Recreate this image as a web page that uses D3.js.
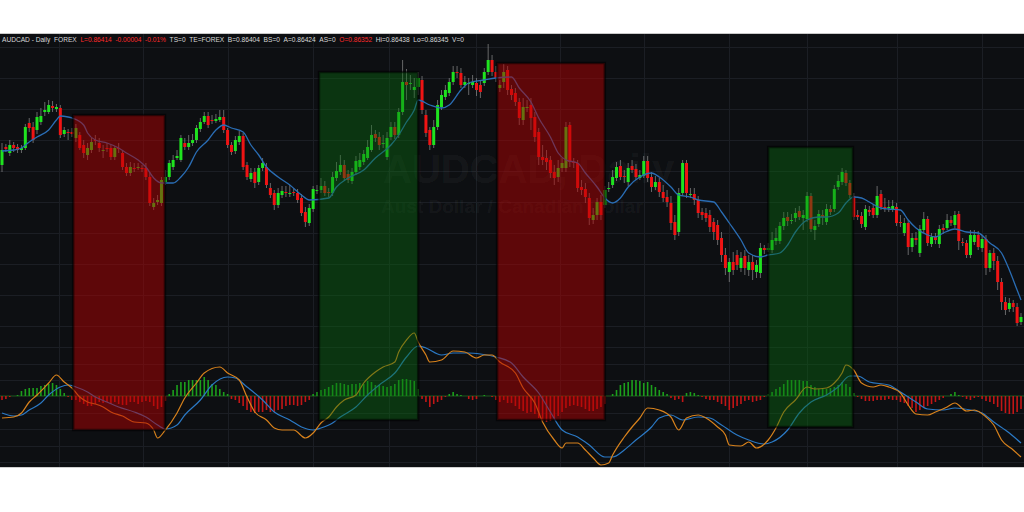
<!DOCTYPE html>
<html><head><meta charset="utf-8">
<script src="https://cdn.jsdelivr.net/npm/d3@7"></script>
<style>html,body{margin:0;padding:0;background:#fff;}svg{display:block}</style>
</head><body><svg id="c" width="1024" height="512"></svg>
<script>
// Prices are stored as price x 10 000 (AUDCAD daily candles)
const openP = [8738,8774,8762,8778,8774,8768,8772,8822,8814,8808,
8824,8844,8844,8856,8850,8852,8800,8804,8804,8792,
8798,8778,8758,8768,8788,8782,8766,8772,8772,8754,
8772,8762,8734,8722,8732,8732,8732,8732,8714,8654,
8664,8662,8704,8714,8734,8752,8748,8782,8774,8782,
8788,8810,8824,8836,8828,8826,8828,8834,8808,8778,
8766,8784,8796,8738,8710,8724,8704,8732,8734,8692,
8682,8658,8678,8684,8680,8684,8682,8672,8644,8622,
8650,8686,8688,8696,8684,8682,8712,8724,8738,8720,
8706,8724,8734,8744,8752,8768,8800,8794,8780,8754,
8794,8814,8798,8844,8904,8900,8888,8894,8908,8838,
8808,8778,8814,8854,8874,8882,8904,8924,8922,8898,
8900,8898,8902,8898,8902,8924,8948,8924,8892,8904,
8928,8890,8882,8864,8828,8852,8858,8834,8804,8754,
8752,8748,8724,8714,8732,8732,8818,8744,8742,8694,
8690,8672,8628,8638,8664,8658,8690,8698,8712,8736,
8716,8704,8736,8730,8712,8716,8746,8714,8694,8704,
8684,8674,8662,8624,8604,8682,8742,8678,8680,8668,
8644,8642,8638,8624,8618,8592,8558,8524,8544,8558,
8532,8556,8528,8544,8524,8522,8572,8568,8568,8586,
8586,8616,8634,8626,8632,8646,8632,8630,8676,8608,
8620,8638,8624,8650,8650,8694,8704,8722,8702,8676,
8638,8636,8614,8648,8652,8638,8680,8654,8652,8648,
8654,8624,8602,8622,8574,8592,8562,8608,8630,8580,
8594,8580,8612,8612,8628,8618,8640,8584,8582,8558,
8584,8598,8572,8590,8532,8562,8546,8504,8464,8450,
8462,8454,8424];
const highP = [8782,8780,8788,8784,8780,8778,8820,8832,8824,8844,
8852,8864,8868,8866,8860,8858,8814,8810,8812,8820,
8804,8788,8782,8792,8798,8792,8778,8782,8778,8776,
8782,8768,8742,8744,8742,8742,8738,8742,8724,8672,
8678,8714,8728,8748,8758,8768,8798,8792,8798,8800,
8818,8832,8844,8844,8838,8840,8848,8848,8812,8784,
8796,8806,8802,8744,8732,8732,8738,8752,8742,8702,
8688,8692,8696,8696,8698,8692,8690,8680,8654,8660,
8696,8698,8712,8706,8692,8724,8744,8758,8748,8728,
8732,8756,8762,8768,8788,8818,8808,8804,8798,8804,
8824,8824,8852,8948,8930,8918,8912,8924,8916,8848,
8814,8828,8868,8888,8898,8912,8936,8936,8932,8916,
8912,8918,8912,8908,8932,8980,8958,8936,8908,8940,
8936,8898,8892,8872,8872,8868,8872,8844,8812,8778,
8768,8756,8738,8748,8752,8824,8824,8752,8748,8708,
8702,8682,8652,8672,8678,8696,8704,8728,8744,8748,
8728,8742,8748,8740,8728,8756,8756,8724,8716,8712,
8698,8688,8676,8638,8692,8748,8748,8692,8692,8676,
8652,8652,8648,8632,8628,8604,8572,8552,8564,8568,
8564,8568,8558,8558,8548,8582,8578,8582,8604,8612,
8624,8644,8644,8640,8652,8656,8648,8684,8682,8628,
8648,8648,8660,8658,8698,8718,8732,8728,8708,8682,
8648,8644,8658,8656,8660,8696,8688,8672,8668,8668,
8662,8638,8632,8628,8602,8604,8618,8644,8636,8602,
8602,8618,8620,8640,8636,8646,8646,8592,8588,8608,
8608,8606,8598,8598,8568,8572,8556,8512,8474,8472,
8468,8462,8442];
const lowP = [8724,8764,8756,8764,8762,8762,8768,8804,8782,8800,
8818,8836,8840,8844,8844,8792,8794,8788,8794,8784,
8768,8752,8748,8762,8778,8764,8752,8764,8748,8748,
8762,8728,8716,8716,8724,8728,8724,8708,8656,8648,
8658,8656,8698,8708,8728,8748,8744,8768,8768,8776,
8782,8804,8820,8812,8820,8822,8824,8802,8772,8758,
8760,8778,8728,8708,8704,8692,8698,8726,8692,8672,
8648,8652,8672,8674,8674,8676,8662,8636,8614,8616,
8644,8680,8682,8676,8674,8676,8706,8718,8706,8702,
8700,8718,8728,8738,8748,8764,8784,8768,8772,8748,
8788,8790,8792,8838,8868,8888,8872,8878,8840,8794,
8768,8772,8808,8848,8868,8876,8898,8912,8892,8892,
8878,8892,8876,8872,8896,8918,8916,8904,8884,8892,
8878,8868,8856,8818,8818,8844,8808,8784,8738,8738,
8728,8712,8698,8704,8724,8724,8734,8732,8684,8678,
8662,8618,8620,8628,8628,8652,8684,8692,8706,8708,
8702,8696,8722,8708,8708,8712,8704,8684,8688,8674,
8664,8654,8608,8588,8596,8676,8672,8672,8658,8632,
8628,8624,8604,8588,8578,8544,8518,8504,8518,8528,
8524,8518,8516,8508,8512,8512,8560,8564,8562,8578,
8580,8608,8616,8620,8624,8628,8608,8624,8604,8588,
8614,8618,8618,8638,8644,8688,8698,8696,8672,8628,
8628,8612,8608,8636,8632,8632,8648,8644,8644,8644,
8616,8614,8596,8558,8564,8578,8554,8602,8576,8574,
8580,8572,8600,8608,8616,8612,8568,8576,8552,8552,
8578,8568,8564,8518,8524,8528,8488,8448,8438,8444,
8444,8416,8418];
const closeP = [8768,8770,8778,8772,8768,8772,8814,8812,8788,8834,
8836,8848,8858,8852,8854,8798,8808,8802,8800,8812,
8772,8762,8772,8784,8786,8772,8768,8770,8754,8772,
8770,8734,8722,8734,8730,8734,8730,8714,8662,8662,
8668,8708,8714,8742,8748,8756,8792,8774,8782,8788,
8812,8824,8836,8818,8826,8830,8834,8808,8778,8764,
8788,8796,8734,8714,8722,8702,8732,8742,8698,8678,
8658,8682,8686,8682,8682,8682,8668,8642,8624,8652,
8690,8688,8696,8682,8682,8714,8726,8738,8712,8708,
8724,8746,8748,8760,8774,8798,8792,8778,8782,8792,
8814,8798,8844,8904,8898,8902,8894,8912,8848,8802,
8778,8814,8858,8878,8888,8904,8924,8922,8898,8904,
8902,8904,8888,8884,8924,8948,8924,8912,8898,8924,
8888,8878,8864,8832,8854,8854,8832,8794,8754,8748,
8744,8722,8712,8732,8742,8814,8744,8742,8692,8688,
8674,8632,8638,8664,8638,8688,8692,8714,8734,8714,
8714,8732,8728,8714,8718,8746,8712,8694,8704,8684,
8672,8664,8622,8598,8682,8742,8682,8680,8668,8642,
8638,8632,8614,8604,8588,8558,8532,8544,8528,8538,
8552,8532,8544,8528,8538,8572,8568,8572,8588,8592,
8616,8632,8626,8628,8642,8634,8638,8676,8610,8616,
8640,8634,8650,8644,8690,8706,8724,8702,8678,8634,
8634,8620,8650,8644,8638,8676,8654,8652,8654,8656,
8622,8622,8622,8574,8592,8588,8610,8630,8582,8594,
8588,8610,8608,8628,8622,8638,8586,8582,8558,8598,
8598,8574,8590,8532,8562,8546,8504,8464,8448,8462,
8454,8422,8434];

// moving average: [candle index, price x 10 000]
const maPoints = [[0,8766],[3,8768],[5,8772],[7,8784],[9,8794],[12,8808],[14,8828],[15,8836],[17,8834],[18,8832],
[21,8818],[22,8802],[24,8788],[27,8782],[30,8772],[32,8762],[35,8748],[37,8734],[39,8712],[41,8702],
[44,8702],[46,8714],[48,8734],[50,8764],[53,8788],[55,8808],[57,8818],[59,8812],[62,8804],[64,8778],
[66,8758],[68,8734],[71,8714],[74,8698],[77,8678],[79,8668],[84,8672],[86,8694],[89,8712],[93,8728],
[96,8752],[100,8778],[102,8798],[104,8824],[106,8848],[107,8868],[110,8858],[113,8852],[115,8858],[118,8888],
[120,8902],[124,8908],[127,8912],[131,8914],[133,8892],[136,8864],[138,8832],[141,8794],[143,8762],[145,8748],
[148,8742],[150,8722],[153,8694],[155,8672],[157,8662],[159,8672],[161,8694],[164,8714],[167,8722],[169,8714],
[172,8694],[174,8678],[177,8674],[179,8668],[183,8664],[185,8644],[187,8622],[190,8588],[192,8562],[195,8554],
[197,8558],[200,8562],[202,8578],[204,8604],[207,8628],[210,8634],[212,8634],[215,8642],[217,8662],[219,8674],
[221,8672],[223,8664],[226,8652],[228,8650],[231,8648],[233,8628],[235,8612],[238,8598],[240,8594],[242,8602],
[245,8610],[248,8604],[251,8602],[254,8582],[257,8562],[259,8528],[261,8488],[262,8468]];

// MACD panel (values x 10 000): [candle index, value]
const macdPoints = [[0,-11],[3,-10.5],[5,-8.5],[7,-3],[9,0.5],[12,6.5],[14,10.5],[16,7],[18,4],[20,-0.5],
[22,-3],[24,-4],[26,-5.5],[28,-8],[31,-10],[34,-13],[37,-13.5],[39,-17],[40,-21],[42,-17],
[45,-8.5],[47,-1],[50,6.5],[52,11.5],[56,14.5],[58,11.5],[61,8],[63,-0.5],[65,-8],[68,-12],
[70,-16],[72,-17],[75,-17],[78,-21],[80,-18.5],[82,-13.5],[84,-10.5],[86,-5.5],[88,-2],[91,0.5],
[93,6.5],[96,12],[98,14.5],[101,17],[102,22],[104,28],[106,31.5],[107,27],[109,20.5],[110,17],
[113,18],[116,22.5],[119,22],[122,19],[124,20.5],[126,20.5],[128,17],[132,11.5],[134,4],[137,-3.5],
[139,-13],[142,-22],[144,-26],[145,-23.5],[148,-23.5],[150,-27],[152,-31],[154,-34.5],[156,-33.5],[157,-29.5],
[160,-20.5],[162,-15.5],[164,-11],[166,-6],[169,-7],[172,-10.5],[174,-17],[176,-11],[179,-9.5],[181,-11],
[184,-15.5],[186,-19.5],[187,-24.5],[190,-25],[192,-23],[194,-26],[197,-22],[199,-16],[201,-8],[204,-2],
[207,4.5],[209,3.5],[212,4],[214,6.5],[216,11.5],[217,15.5],[219,13],[221,6.5],[224,4.5],[226,5.5],
[228,4.5],[231,1.5],[233,-4.5],[235,-9],[238,-9.5],[240,-8],[243,-5.5],[245,-3.5],[248,-7.5],[250,-7],
[253,-10.5],[255,-14.5],[257,-22],[260,-27],[262,-30.5]];
const signalPoints = [[0,-8.5],[3,-10],[5,-9.5],[7,-7],[10,-3.5],[12,0.5],[15,4.5],[17,5.5],[19,4.5],[22,2],
[24,-0.5],[27,-3],[30,-5.5],[34,-8],[37,-10.5],[40,-14.5],[42,-16.5],[45,-14.5],[47,-9.5],[51,-2],
[54,5.5],[58,9.5],[60,9],[63,4.5],[67,-2],[70,-8],[74,-12],[77,-15.5],[80,-17],[82,-16],
[85,-13.5],[87,-10.5],[91,-5.5],[94,0.5],[97,5.5],[101,11.5],[104,19.5],[107,25],[109,24],[113,20.5],
[116,21.5],[120,21.5],[123,21],[127,19.5],[131,16.5],[134,9.5],[138,1.5],[141,-8],[144,-17],[148,-20.5],
[151,-24.5],[155,-30.5],[157,-30.5],[160,-27],[163,-22],[167,-15.5],[169,-11],[172,-9.5],[175,-12],[179,-10.5],
[182,-11],[185,-14.5],[189,-19.5],[192,-22],[196,-24],[198,-23],[202,-17],[205,-8.5],[208,-3],[212,0.5],
[215,4.5],[218,10],[220,10],[223,7],[228,5.5],[231,2],[235,-3],[238,-6.5],[242,-7],[245,-6],
[249,-7],[252,-8.5],[255,-13],[259,-18.5],[262,-23.5]];
const histogram = [-2,-1.5,-0.5,0,0.5,2.5,3.5,4,4,4,
5,5.5,6,6.5,5.5,3.5,1.5,-0.5,-2,-2,
-3,-4,-5,-5,-4,-3,-3.5,-3,-4,-3,
-4,-4.5,-4.5,-3,-3,-4,-3,-2.5,-3,-5,
-6.5,-5.5,-2.5,1,3,5.5,7,7,8,8,
8,8,9.5,8,6,5.5,3.5,2,1,-1.5,
-2,-3.5,-5,-7,-8,-8.5,-8,-8,-7,-8,
-8,-7,-6.5,-5,-4.5,-4.5,-5,-4.5,-3,-2,
1,2,3,3.5,4.5,5.5,6.5,6.5,6,5.5,
6,6,6.5,6,7.5,7,5.5,5.5,5,4.5,
5,6,8,8.5,8.5,8,7.5,3.5,-1.5,-3,
-5.5,-4,-3,-2,-0.5,1,2,1,0.5,0,
-1.5,-2,-1.5,0,0.5,0,-0.5,-2,-3,-2,
-3.5,-3.5,-5,-6.5,-7.5,-8.5,-8,-9,-11,-12.5,
-13,-12.5,-11,-10,-8,-6,-5,-4.5,-5,-5.5,
-6.5,-7.5,-7.5,-6.5,-5.5,-4,0,1,3,5.5,
6.5,7,8,8,7.5,6.5,7,5.5,4.5,3,
2,1,-1,-2,-1.5,-3,1.5,2,1.5,0.5,
-0.5,-1.5,-2,-2,-3,-4,-5,-7,-6,-5,
-4,-2.5,-2,-3,-2.5,-2,-0.5,1,2,3.5,
4.5,6,8,8,8,8,7.5,7.5,5.5,4.5,
3.5,3.5,3.5,4,4.5,5.5,7,6,4.5,1.5,
-0.5,-1.5,-2.5,-2.5,-2.5,-2,-2,-2,-1.5,-2,
-2,-3,-3.5,-5,-6,-8,-7,-6,-5,-4,
-3,-2,-1,0,1,2,0.5,-0.5,-1.5,-2,
-1,-0.5,-1.5,-2.5,-3,-4,-5.5,-7.5,-8.5,-9,
-9,-8,-6.5];

// highlighted zones: candle index range, top price (x 10 000), bottom MACD value
const zoneStart = [18.3, 81.5, 127.3, 197];
const zoneEnd = [41.9, 107, 155, 218.8];
const zoneTop = [8838, 8924, 8942, 8774];
const zoneBottom = [-17, -12, -12, -15.5];
const zoneKind = ['sell', 'buy', 'sell', 'buy'];

// grid ticks
const priceGrid = [8974, 8912, 8850, 8788, 8726, 8664, 8602, 8540, 8478, 8416];
const macdGrid = [24.5, 16.25, 8, -8.25, -16.5, -24.75, -33];
const timeGrid = [14.7, 36.3, 58, 80, 99.5, 122, 143.5, 165, 187, 207, 230, 252];

const headerParts = ['AUDCAD - Daily', 'FOREX', 'L=0.86414', '-0.00004', '-0.01%', 'TS=0', 'TE=FOREX', 'B=0.86404', 'BS=0', 'A=0.86424', 'AS=0', 'O=0.86352', 'Hi=0.86438', 'Lo=0.86345', 'V=0'];
const headerRed = [false, false, true, true, true, false, false, false, false, false, false, true, false, false, false];
const watermark = ['AUDCAD, Daily', 'Aust Dollar / Canadian Dollar'];

// ---------- drawing ----------
const svg = d3.select('#c');
const W = 1024, panelTop = 34, panelBottom = 467;

const candles = openP.map((o, i) => ({i, o: o / 1e4, h: highP[i] / 1e4, l: lowP[i] / 1e4, c: closeP[i] / 1e4}));

const x = d3.scaleLinear().domain([0, 262]).range([2, 1021]);
const y = d3.scaleLinear().domain([0.84, 0.90]).range([334, 34]);
const ym = d3.scaleLinear().domain([-35.5, 33]).range([467, 330]);

svg.append('rect').attr('x', 0).attr('y', panelTop).attr('width', W).attr('height', panelBottom - panelTop).attr('fill', '#0d0f12');
svg.append('line').attr('x1', 0).attr('x2', W).attr('y1', panelTop - 0.5).attr('y2', panelTop - 0.5).attr('stroke', '#c9c9c9');
svg.append('line').attr('x1', 0).attr('x2', W).attr('y1', panelBottom + 0.5).attr('y2', panelBottom + 0.5).attr('stroke', '#d0d0d0');

// grid
const grid = svg.append('g').attr('stroke', '#1b1e24').attr('stroke-width', 1);
grid.selectAll('.v').data(timeGrid).join('line')
  .attr('x1', d => Math.round(x(d)) + 0.5).attr('x2', d => Math.round(x(d)) + 0.5)
  .attr('y1', panelTop).attr('y2', panelBottom);
grid.selectAll('.hp').data(priceGrid).join('line')
  .attr('x1', 0).attr('x2', W)
  .attr('y1', d => Math.round(y(d / 1e4)) + 0.5).attr('y2', d => Math.round(y(d / 1e4)) + 0.5);
grid.selectAll('.hm').data(macdGrid).join('line')
  .attr('x1', 0).attr('x2', W)
  .attr('y1', d => Math.round(ym(d)) + 0.5).attr('y2', d => Math.round(ym(d)) + 0.5);

// watermark
svg.append('text').text(watermark[0]).attr('x', 383).attr('y', 183)
  .attr('font-family', 'Liberation Sans, Arial, sans-serif').attr('font-weight', 'bold').attr('font-size', 40)
  .attr('fill', '#ffffff').attr('fill-opacity', 0.055);
svg.append('text').text(watermark[1]).attr('x', 381).attr('y', 213)
  .attr('font-family', 'Liberation Sans, Arial, sans-serif').attr('font-weight', 'bold').attr('font-size', 19)
  .attr('fill', '#ffffff').attr('fill-opacity', 0.055);

// histogram
svg.append('line').attr('x1', 0).attr('x2', W).attr('y1', ym(0)).attr('y2', ym(0)).attr('stroke', '#1f5a1f').attr('stroke-width', 1);
svg.append('g').selectAll('rect').data(histogram).join('rect')
  .attr('x', (d, i) => x(i) - 0.8).attr('width', 1.6)
  .attr('y', d => Math.min(ym(0), ym(d))).attr('height', d => Math.abs(ym(d) - ym(0)))
  .attr('fill', d => d >= 0 ? '#1c9f1c' : '#c21616');

// MACD lines
const lineM = d3.line().x(d => x(d[0])).y(d => ym(d[1])).curve(d3.curveMonotoneX);
svg.append('path').datum(signalPoints).attr('d', lineM).attr('fill', 'none').attr('stroke', '#2b79c4').attr('stroke-width', 1.2);
svg.append('path').datum(macdPoints).attr('d', lineM).attr('fill', 'none').attr('stroke', '#d8821c').attr('stroke-width', 1.2);

// candles
const cg = svg.append('g');
cg.selectAll('line').data(candles).join('line')
  .attr('x1', d => x(d.i)).attr('x2', d => x(d.i))
  .attr('y1', d => y(d.h)).attr('y2', d => y(d.l))
  .attr('stroke', '#8d8d8d').attr('stroke-opacity', 0.7).attr('stroke-width', 1);
cg.selectAll('rect').data(candles).join('rect')
  .attr('x', d => x(d.i) - 1.5).attr('width', 3)
  .attr('y', d => Math.min(y(d.o), y(d.c)))
  .attr('height', d => Math.max(1, Math.abs(y(d.o) - y(d.c))))
  .attr('fill', d => d.c >= d.o ? '#1fe31f' : '#ef1414');

// moving average
const lineP = d3.line().x(d => x(d[0])).y(d => y(d[1] / 1e4)).curve(d3.curveMonotoneX);
svg.append('path').datum(maPoints).attr('d', lineP).attr('fill', 'none').attr('stroke', '#2a6db4').attr('stroke-width', 1.3);

// zones
svg.append('g').selectAll('rect').data(zoneStart).join('rect')
  .attr('x', (d, k) => x(d)).attr('width', (d, k) => x(zoneEnd[k]) - x(d))
  .attr('y', (d, k) => y(zoneTop[k] / 1e4)).attr('height', (d, k) => ym(zoneBottom[k]) - y(zoneTop[k] / 1e4))
  .attr('fill', (d, k) => zoneKind[k] === 'sell' ? '#b00000' : '#0a6c10')
  .attr('fill-opacity', (d, k) => zoneKind[k] === 'sell' ? 0.5 : 0.42)
  .attr('stroke', '#000').attr('stroke-opacity', 0.55).attr('stroke-width', 2.5);

// header
const ht = svg.append('text').attr('font-family', 'Liberation Sans, Arial, sans-serif').attr('font-size', 7.2);
headerParts.forEach((t, k) => {
  ht.append('tspan').text(t).attr('dx', k === 0 ? 0 : (k === 1 ? 4 : 4))
    .attr('fill', headerRed[k] ? '#ff2a2a' : '#d8d8d8');
});
const len = ht.node().getComputedTextLength();
ht.attr('transform', `translate(2,41.5) scale(${411 / len},1)`);
</script></body></html>
